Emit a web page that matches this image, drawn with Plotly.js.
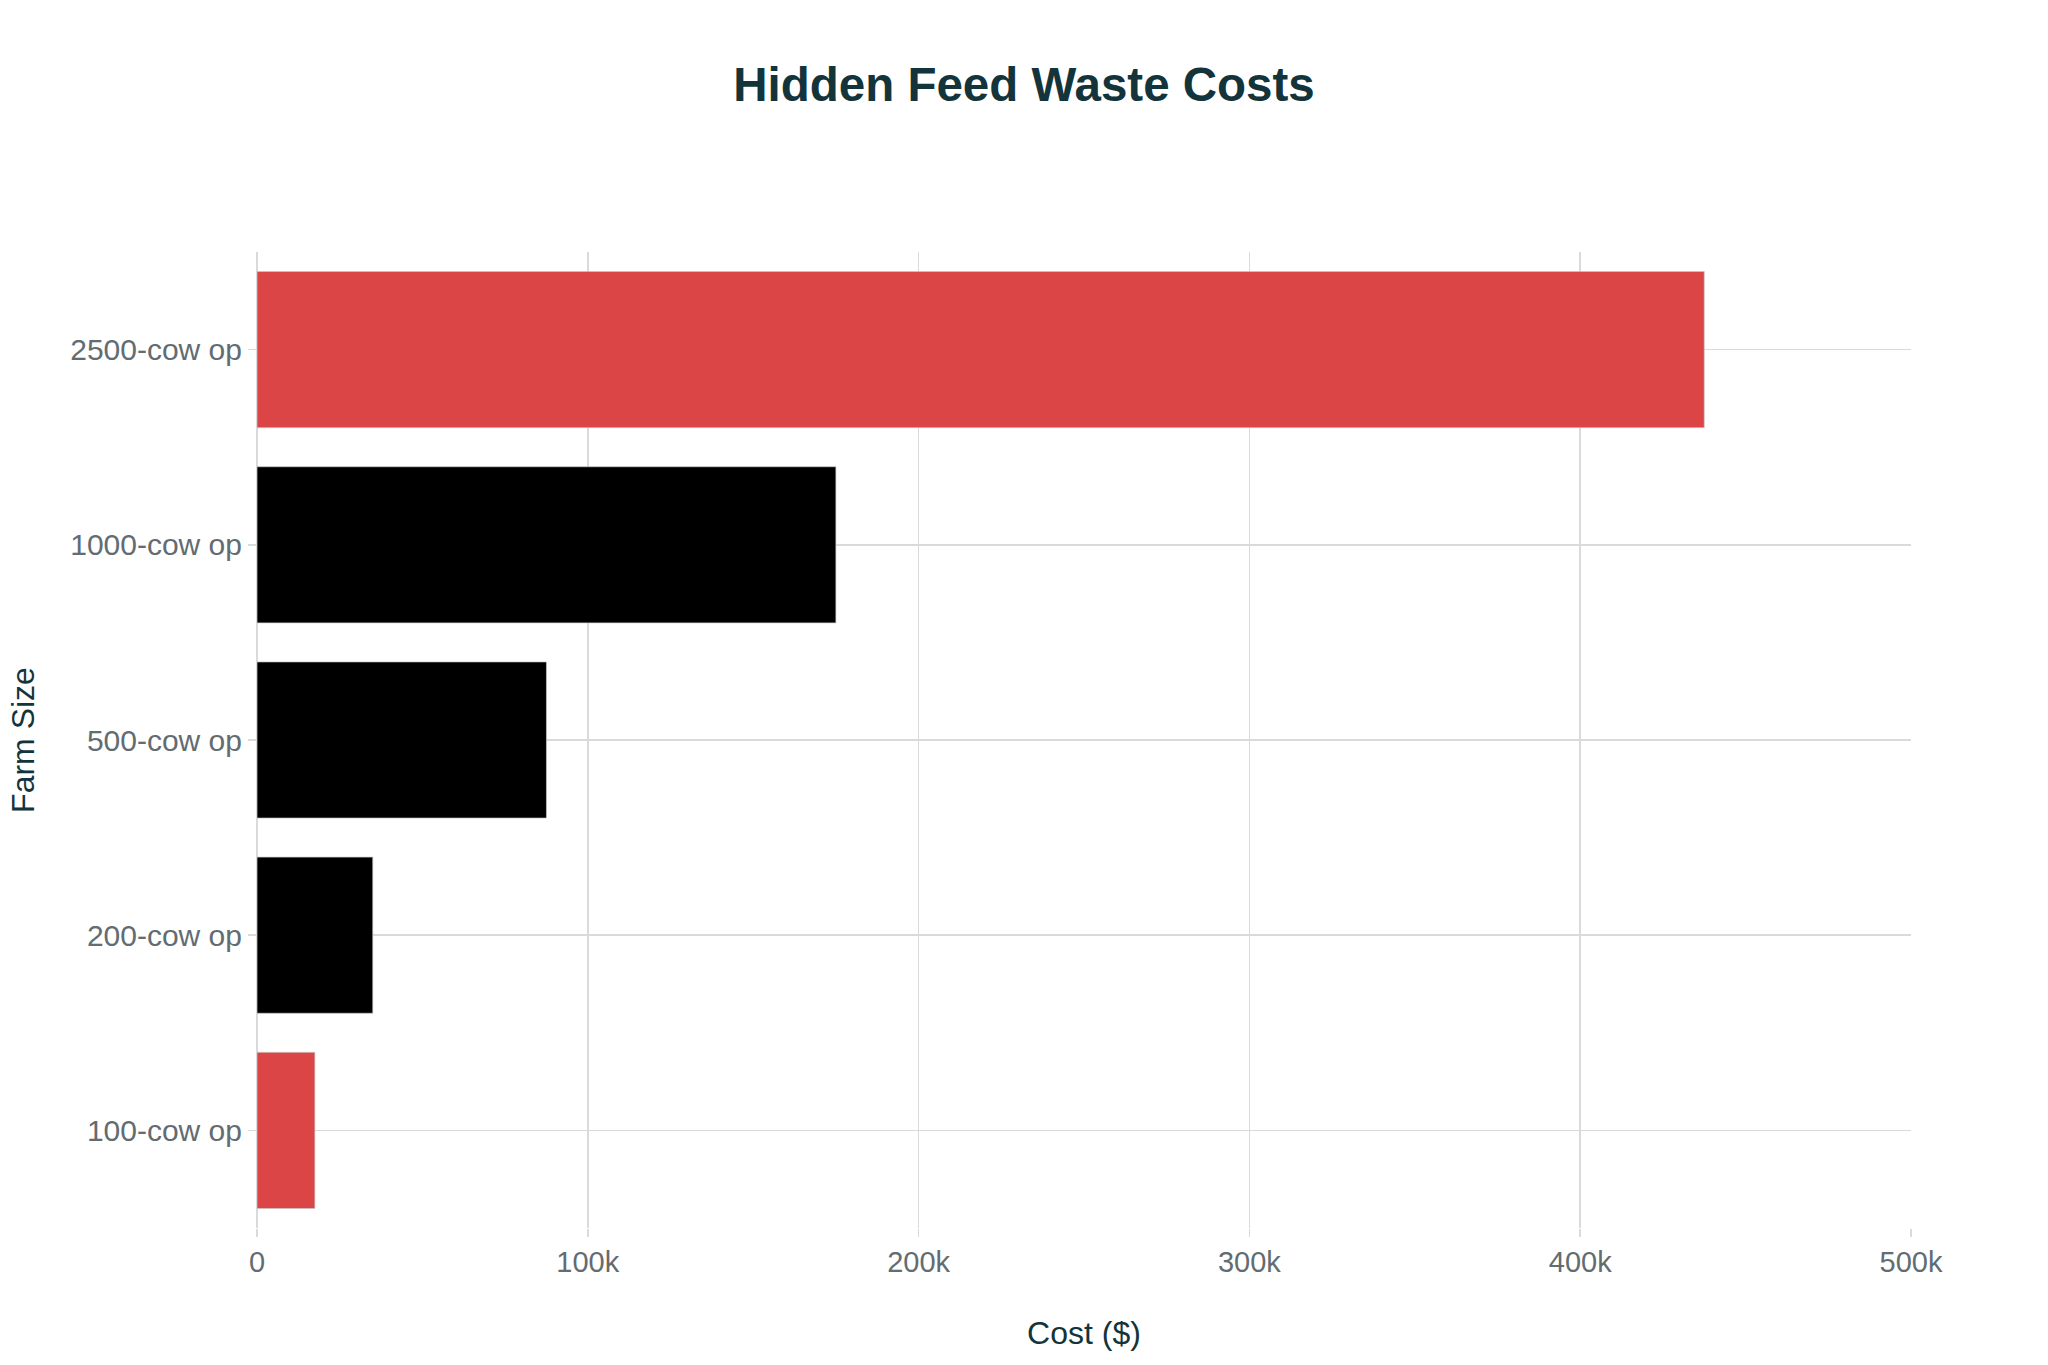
<!DOCTYPE html>
<html>
<head>
<meta charset="utf-8">
<script src="https://cdn.plot.ly/plotly-3.0.1.min.js"></script>
<style>
  html, body { margin: 0; padding: 0; background: #ffffff; }
  #chart { width: 2048px; height: 1365px; }
</style>
</head>
<body>
<div id="chart"></div>
<script>
// Data
const farmSizes = ["100-cow op", "200-cow op", "500-cow op", "1000-cow op", "2500-cow op"];
const wasteCosts = [17500, 35000, 87500, 175000, 437500];
const barColors = ["#DB4545", "#000000", "#000000", "#000000", "#DB4545"];
const xTickValues = [0, 100000, 200000, 300000, 400000, 500000];
const xTickLabels = ["0", "100k", "200k", "300k", "400k", "500k"];

const fontFamily = '"Liberation Sans", Arial, "Helvetica Neue", Helvetica, sans-serif';

const trace = {
  type: "bar",
  orientation: "h",
  y: farmSizes,
  x: wasteCosts,
  marker: {
    color: barColors,
    line: { color: "rgba(200,200,200,0.7)", width: 1 }
  },
  hoverinfo: "x+y",
  showlegend: false
};

const layout = {
  width: 2048,
  height: 1365,
  paper_bgcolor: "#ffffff",
  plot_bgcolor: "#ffffff",
  margin: { l: 257, r: 137, t: 252, b: 137 },
  bargap: 0.2,
  font: { family: fontFamily, color: "#13343B" },
  title: {
    text: "<b>Hidden Feed Waste Costs</b>",
    font: { family: fontFamily, size: 47.5, color: "#13343B" },
    x: 0.5,
    xref: "container",
    xanchor: "center",
    y: 0.938,
    yref: "container",
    yanchor: "middle"
  },
  xaxis: {
    title: {
      text: "Cost ($)",
      font: { family: fontFamily, size: 32, color: "#13343B" },
      standoff: 44
    },
    range: [0, 500000],
    tickvals: xTickValues,
    ticktext: xTickLabels,
    tickfont: { family: fontFamily, size: 29, color: "#626C71" },
    showgrid: true,
    gridcolor: "#DADADA",
    gridwidth: 1.5,
    zeroline: true,
    zerolinecolor: "#DADADA",
    zerolinewidth: 1.5,
    showline: false,
    ticks: "outside",
    ticklen: 8,
    tickcolor: "#DADADA",
    tickwidth: 1.5,
    fixedrange: true
  },
  yaxis: {
    title: {
      text: "Farm Size",
      font: { family: fontFamily, size: 32, color: "#13343B" },
      standoff: 26
    },
    type: "category",
    categoryorder: "array",
    categoryarray: farmSizes,
    tickfont: { family: fontFamily, size: 30, color: "#626C71" },
    showgrid: true,
    gridcolor: "#DADADA",
    gridwidth: 1.5,
    showline: false,
    ticks: "outside",
    ticklen: 8,
    tickcolor: "#DADADA",
    tickwidth: 1.5,
    fixedrange: true
  }
};

Plotly.newPlot("chart", [trace], layout, { displayModeBar: false, staticPlot: true });
</script>
</body>
</html>
